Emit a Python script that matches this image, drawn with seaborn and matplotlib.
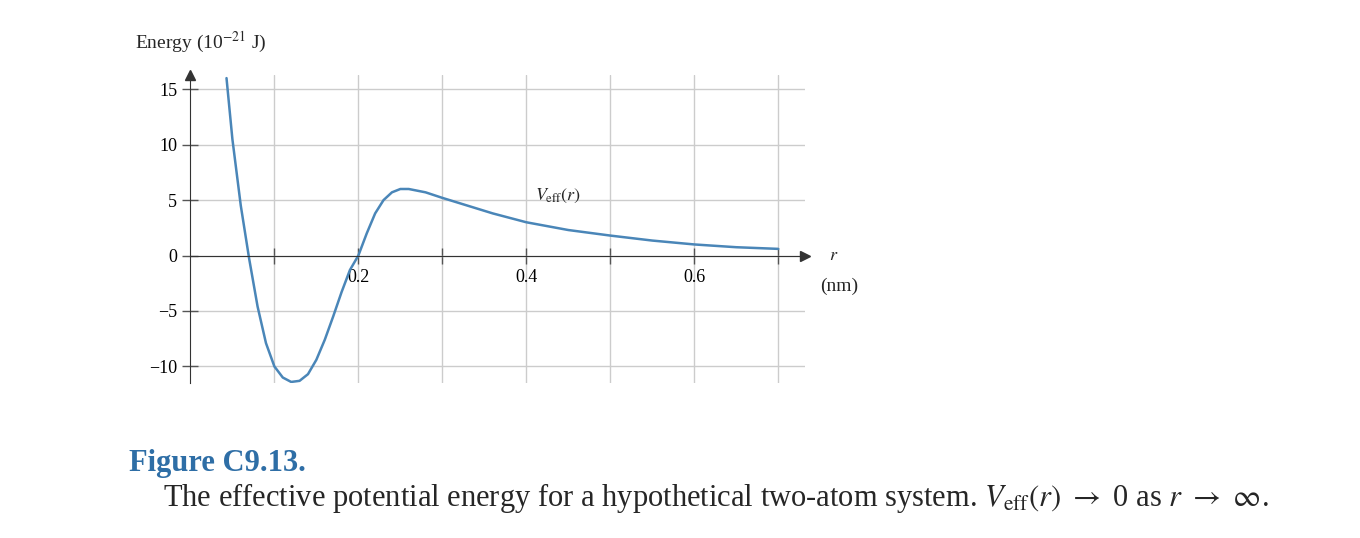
import numpy as np
import pandas as pd
import matplotlib.pyplot as plt
import seaborn as sns

# valores
r_nm = [0.043, 0.05, 0.06, 0.07, 0.08, 0.09, 0.10, 0.11, 0.12, 0.13, 0.14, 0.15,
        0.16, 0.17, 0.18, 0.19, 0.20, 0.21, 0.22, 0.23, 0.24, 0.25, 0.26, 0.28,
        0.30, 0.33, 0.36, 0.40, 0.45, 0.50, 0.55, 0.60, 0.65, 0.70]
energia = [16.0, 10.5, 4.5, -0.3, -4.6, -7.9, -10.0, -11.0, -11.4, -11.3, -10.7, -9.4,
           -7.6, -5.5, -3.3, -1.3, 0.0, 2.0, 3.8, 5.0, 5.7, 6.0, 6.0, 5.7,
           5.2, 4.5, 3.8, 3.0, 2.3, 1.8, 1.35, 1.0, 0.75, 0.6]
y_ticks = [-10, -5, 0, 5, 10, 15]
x_ticks = [0.2, 0.4, 0.6]

dados = pd.DataFrame({'r': r_nm, 'E': energia})

sns.set_style("white")
plt.rcParams['font.family'] = ['Liberation Serif', 'DejaVu Serif']
plt.rcParams['mathtext.fontset'] = 'stix'

fig = plt.figure(figsize=(13.6, 5.38), dpi=100)
ax = fig.add_axes([0.14, 0.288, 0.452, 0.573])

sns.lineplot(data=dados, x='r', y='E', ax=ax, color='#4a86b8', linewidth=1.8)

ax.set_xlim(0, 0.732)
ax.set_ylim(-11.5, 16.3)
ax.set_xticks(np.arange(0.1, 0.71, 0.1), minor=True)
ax.set_xticks(x_ticks)
ax.set_xticklabels(['0.2', '0.4', '0.6'])
ax.set_yticks(y_ticks)
ax.set_yticklabels(['\u221210', '\u22125', '0', '5', '10', '15'])
ax.grid(True, which='both', color='#cccccc', linewidth=1)
ax.tick_params(which='both', bottom=True, left=True, direction='inout', length=12,
               width=1, colors='#555555', labelcolor='black', labelsize=13)
ax.set_xlabel('')
ax.set_ylabel('')

for lado in ['top', 'right']:
    ax.spines[lado].set_visible(False)
ax.spines['bottom'].set_position(('data', 0))
ax.spines['left'].set_position(('data', 0))
for lado in ['bottom', 'left']:
    ax.spines[lado].set_color('#333333')
ax.plot(1, 0, '>', color='#333333', markersize=7, transform=ax.get_yaxis_transform(), clip_on=False)
ax.plot(0, 1, '^', color='#333333', markersize=7, transform=ax.get_xaxis_transform(), clip_on=False)

ax.text(0.76, 0, '$r$', fontsize=13, va='center')
ax.text(0.75, -2.8, '(nm)', fontsize=14, va='center')
ax.text(0.41, 5.0, r'$V_{\rm eff}(r)$', fontsize=13)
fig.text(0.099, 0.91, 'Energy (10$^{-21}$ J)', fontsize=14)

fig.text(0.095, 0.125, 'Figure C9.13.', fontsize=22, fontweight='bold', color='#2e6ea6')
fig.text(0.12, 0.06, r'The effective potential energy for a hypothetical two-atom system. '
         r'$V_{\rm eff}(r)$ $\rightarrow$ 0 as $r$ $\rightarrow$ $\infty$.', fontsize=22)

plt.savefig('out.png')
